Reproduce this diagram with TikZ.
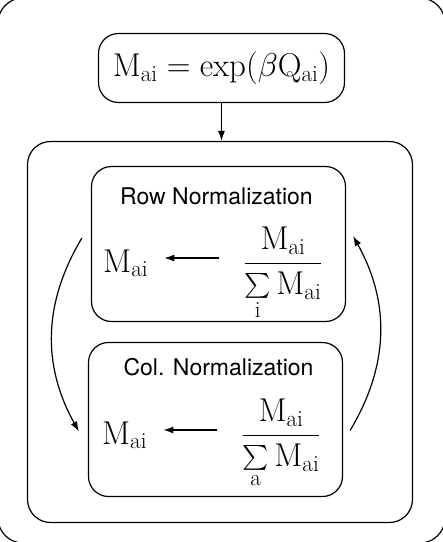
\RequirePackage{fix-cm}
\documentclass[tikz,border=0pt]{standalone}
\usepackage{amsmath}
\usepackage{fontspec}
\newfontfamily\labelfont{TeX Gyre Heros}
\usetikzlibrary{arrows.meta}

\tikzset{
  roundbox/.style={draw, line width=1.2pt, rounded corners=20pt, inner sep=0pt},
  mathtext/.style={inner sep=0pt, font=\fontsize{33}{40}\selectfont},
  boxtitle/.style={inner sep=0pt, anchor=base, font=\labelfont\fontsize{23}{28}\selectfont},
  flow/.style={line width=1.2pt, -{Latex[length=10pt,width=7pt]}}
}

\begin{document}
\begin{tikzpicture}[x=1pt,y=-1pt]
\useasboundingbox (0,0) rectangle (443,542);
\draw[line width=1.2pt, rounded corners=25pt] (-2,-2) rectangle (445,543);

\node[roundbox, mathtext, minimum width=246pt, minimum height=69pt] (init) at (221.5,68)
  {$\mathrm{M_{ai}} = \exp(\beta\mathrm{Q_{ai}})$};

\node[roundbox, rounded corners=23pt, minimum width=385pt, minimum height=381pt] (loop) at (220,332) {};

% row step
\node[roundbox, minimum width=254pt, minimum height=155pt] (row) at (218.5,244) {};
\node[boxtitle] (rowtitle) at (216.5,204) {Row Normalization};
\node[mathtext, anchor=base west] (rowm) at (103,272) {$\mathrm{M_{ai}}$};
\node[mathtext, anchor=base] (rowfrac) at (283,272)
  {$\dfrac{\mathrm{M_{ai}}}{\sum\limits_{\mathrm{i}}\mathrm{M_{ai}}}$};

% column step
\node[roundbox, minimum width=254pt, minimum height=154pt] (col) at (215.5,419.5) {};
\node[boxtitle] (coltitle) at (218.5,375) {Col. Normalization};
\node[mathtext, anchor=base west] (colm) at (102,444) {$\mathrm{M_{ai}}$};
\node[mathtext, anchor=base] (colfrac) at (281,444)
  {$\dfrac{\mathrm{M_{ai}}}{\sum\limits_{\mathrm{a}}\mathrm{M_{ai}}}$};

\draw[flow] (init.south) -- (init.south |- loop.north);
\draw[flow, shorten <=24pt, shorten >=16pt] ([yshift=14pt]rowfrac.base west) -- ([yshift=14pt]rowm.base east);
\draw[flow, shorten <=24pt, shorten >=16pt] ([yshift=14pt]colfrac.base west) -- ([yshift=14pt]colm.base east);

\draw[flow] ([shift={(-9pt,6pt)}]row.west) to[bend right=30] ([shift={(-9pt,-12pt)}]col.west);
\draw[flow] ([shift={(7pt,-11pt)}]col.east) to[bend right=30] ([shift={(7pt,8pt)}]row.east);
\end{tikzpicture}
\end{document}
